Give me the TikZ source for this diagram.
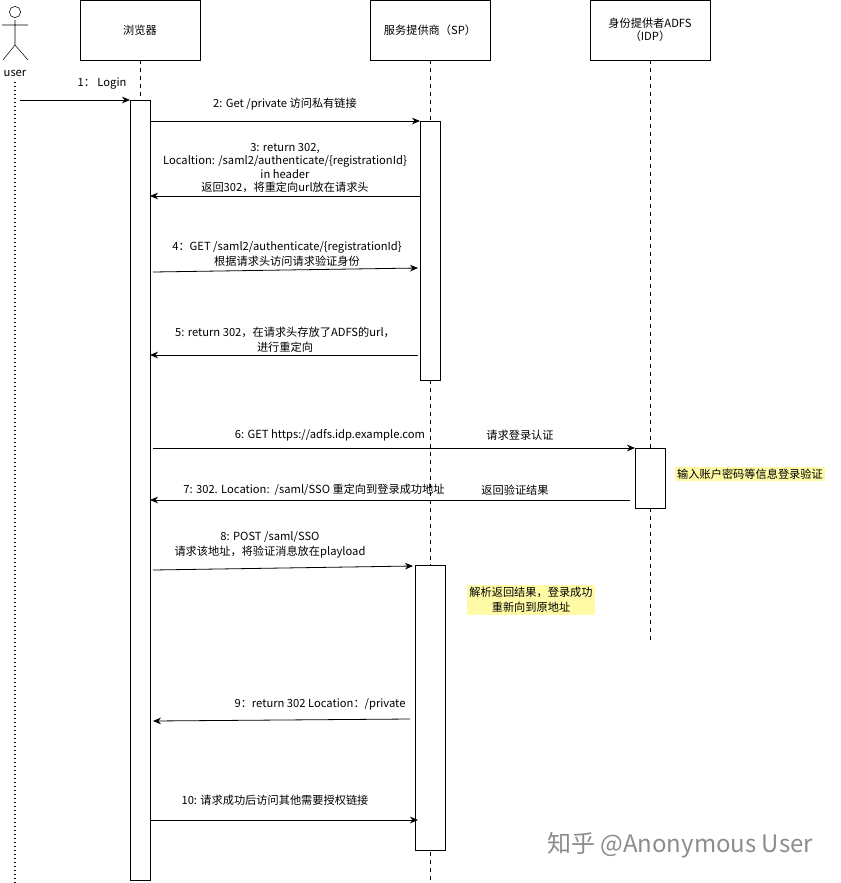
\documentclass[tikz,border=0pt]{standalone}
\usepackage{fontspec}
\setmainfont{Noto Sans CJK SC}
\usetikzlibrary{arrows.meta}
\begin{document}
\begin{tikzpicture}[x=0.75pt,y=-0.75pt,
  font=\fontsize{8.4}{10}\selectfont,
  box/.style={draw,fill=white,minimum width=90pt,minimum height=45pt,align=center},
  act/.style={draw,fill=white},
  msg/.style={-{Stealth[length=6pt,width=5pt]},line width=0.6pt},
  lbl/.style={align=center,inner sep=1pt},
  life/.style={dashed,line width=0.5pt},
  note/.style={fill=yellow!35,align=center,inner sep=1.5pt}]
\useasboundingbox (0,0) rectangle (841,883);
% actor
\draw (15,12) circle (7.5*0.75);
\draw (15,20) -- (15,45) (2,25) -- (28,25) (3,60) -- (15,45) -- (28,60);
\node (user) at (15,73) {user};
\draw[dotted,line width=1pt] (15,82) -- (15,883);
% boxes
\node[box] (br) at (140,30) {浏览器};
\node[box] (sp) at (430,30) {服务提供商（SP）};
\node[box] (idp) at (650,30) {身份提供者ADFS\\（IDP）};
\draw[life] (br.south) -- (140,100);
\draw[life] (sp.south) -- (430,883);
\draw[life] (idp.south) -- (650,640);
% activations
\draw[act] (130,100) rectangle (150,880);
\draw[act] (420,121) rectangle (440,380);
\draw[act] (415,565) rectangle (445,850);
\draw[act] (635,448) rectangle (665,508);
\coordinate (u1) at (20,100); \coordinate (b1) at (130,100);
\draw[msg] (u1) -- (b1);
\node[lbl] at (102,84) {1： Login};
\coordinate (b2) at (150,121); \coordinate (s2) at (420,121);
\draw[msg] (b2) -- (s2);
\node[lbl] at (285,104) {2: Get /private 访问私有链接};
\coordinate (s3) at (420,196); \coordinate (b3) at (150,196);
\draw[msg] (s3) -- (b3);
\node[lbl,font=\fontsize{8.4}{10}\selectfont] at (285,168) {3: return 302,\\Localtion: /saml2/authenticate/\{registrationId\}\\in header\\返回302，将重定向url放在请求头};
\coordinate (b4) at (153,272); \coordinate (s4) at (418,268);
\draw[msg] (b4) -- (s4);
\node[lbl,font=\fontsize{8.4}{11.5}\selectfont] at (287,254) {4：GET /saml2/authenticate/\{registrationId\}\\根据请求头访问请求验证身份};
\coordinate (s5) at (418,355); \coordinate (b5) at (150,355);
\draw[msg] (s5) -- (b5);
\node[lbl,font=\fontsize{8.4}{11.5}\selectfont] at (285,340) {5: return 302，在请求头存放了ADFS的url，\\进行重定向};
\coordinate (b6) at (153,448); \coordinate (i6) at (635,448);
\draw[msg] (b6) -- (i6);
\node[lbl] at (330,435) {6: GET https://adfs.idp.example.com};
\node[lbl] at (520,435) {请求登录认证};
\coordinate (i7) at (630,500); \coordinate (b7) at (150,500);
\draw[msg] (i7) -- (b7);
\node[lbl] at (314,490) {7: 302. Location:\ \ /saml/SSO 重定向到登录成功地址};
\node[lbl] at (515,490) {返回验证结果};
\coordinate (b8) at (153,570); \coordinate (s8) at (413,566);
\draw[msg] (b8) -- (s8);
\node[lbl,font=\fontsize{8.4}{11.5}\selectfont] at (270,545) {8: POST /saml/SSO\\请求该地址，将验证消息放在playload};
\coordinate (s9) at (410,719); \coordinate (b9) at (153,721);
\draw[msg] (s9) -- (b9);
\node[lbl] at (320,704) {9：return 302 Location：/private};
\coordinate (b10) at (150,820); \coordinate (s10) at (418,820);
\draw[msg] (b10) -- (s10);
\node[lbl] at (275,800) {10: 请求成功后访问其他需要授权链接};
\node[note] (n1) at (750,474) {输入账户密码等信息登录验证};
\node[note,font=\fontsize{8.4}{11.5}\selectfont] (n2) at (531,600) {解析返回结果，登录成功\\重新向到原地址};
\node[text=black!45,font=\fontsize{18}{20}\selectfont] (wm) at (680,845) {知乎 @Anonymous User};
\end{tikzpicture}
\end{document}
